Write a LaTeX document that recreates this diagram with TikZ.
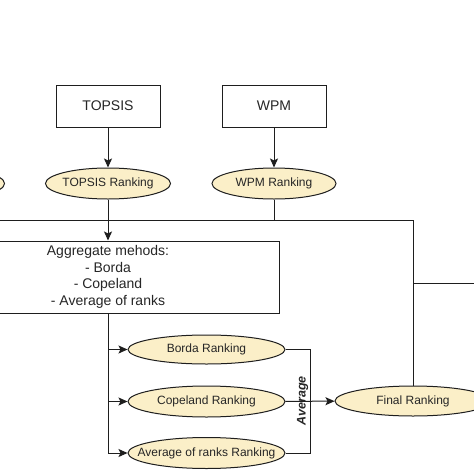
\documentclass[tikz,border=0pt]{standalone}
\usepackage{fontspec}
\setmainfont{Liberation Sans}
\usetikzlibrary{shapes.geometric,arrows.meta}
\definecolor{ellfill}{HTML}{FBEFC8}
\definecolor{linecol}{HTML}{1E1E1E}
\definecolor{textcol}{HTML}{262626}
\begin{document}
\begin{tikzpicture}[x=1pt,y=-1pt,
  conn/.style={draw=linecol, line width=1pt},
  arr/.style={conn, -{Stealth[length=9pt,width=8pt,inset=2pt]}},
  boxnode/.style={draw=linecol, line width=1pt, fill=white, text=textcol,
    font=\fontsize{14}{16.5}\selectfont, inner sep=0pt},
  ranknode/.style={ellipse, draw=linecol, fill=ellfill, line width=1pt, text=textcol,
    font=\fontsize{12}{14}\selectfont, inner sep=0pt, minimum height=30pt},
  avglabel/.style={rotate=90, text=textcol, font=\fontsize{12.5}{14}\selectfont\bfseries\itshape, inner sep=0pt}
]
\useasboundingbox (0,0) rectangle (474,474);
\fill[white] (0,0) rectangle (474,474);
\clip (0,0) rectangle (474,474);

% boxes
\node[boxnode, minimum width=104pt, minimum height=42pt] (topsis) at (108,106) {TOPSIS};
\node[boxnode, minimum width=104pt, minimum height=42pt] (wpm) at (274,106) {WPM};

% first-level rankings
\node[ranknode, minimum width=125pt, minimum height=31pt] (tr) at (108,183.5) {\makebox[0pt]{TOPSIS Ranking}};
\node[ranknode, minimum width=124pt, minimum height=31pt] (wr) at (274,183.5) {\makebox[0pt]{WPM Ranking}};
\node[ranknode, minimum width=125pt, minimum height=31pt] (lr) at (-58,183.5) {};

% aggregate box
\node[boxnode, minimum width=342pt, minimum height=72pt, align=center] (agg) at (108,277)
  {Aggregate mehods:\\- Borda\\- Copeland\\- Average of ranks};

% second-level rankings
\node[ranknode, minimum width=157pt, minimum height=29pt] (borda) at (206.5,349.5) {\makebox[0pt]{Borda Ranking}};
\node[ranknode, minimum width=157pt, minimum height=31pt] (cop) at (206.5,401.5) {\makebox[0pt]{Copeland Ranking}};
\node[ranknode, minimum width=157pt, minimum height=31pt] (avg) at (206.5,453) {\makebox[0pt]{Average of ranks Ranking}};

% final ranking
\node[ranknode, minimum width=156pt, minimum height=30pt] (fr) at (413,401) {\makebox[0pt]{Final Ranking}};

\node[avglabel] (avgtxt) at (302.5,401) {Average};

% helper coordinates
\coordinate (hl) at (-10,220);
\coordinate (hr) at (413,220);
\coordinate (rb) at (413,283);
\coordinate (re) at (480,283);
\coordinate (tb) at (108,453);

% connectors
\draw[arr] (topsis) -- (tr);
\draw[arr] (wpm) -- (wr);
\draw[conn] (hl) -- (hr) -- (fr.north);
\draw[conn] (rb) -- (re);
\draw[conn] (wr) -- (wr |- hr);
\draw[arr] (tr) -- (agg);
\draw[conn] (agg.south -| tb) -- (tb);
\draw[arr] (tb |- borda) -- (borda);
\draw[arr] (tb |- cop) -- (cop);
\draw[arr] (tb) -- (avg);
\draw[conn] (borda.east) -- ++(25,0) |- (avg.east);
\draw[arr] (cop) -- (fr);
\end{tikzpicture}
\end{document}
